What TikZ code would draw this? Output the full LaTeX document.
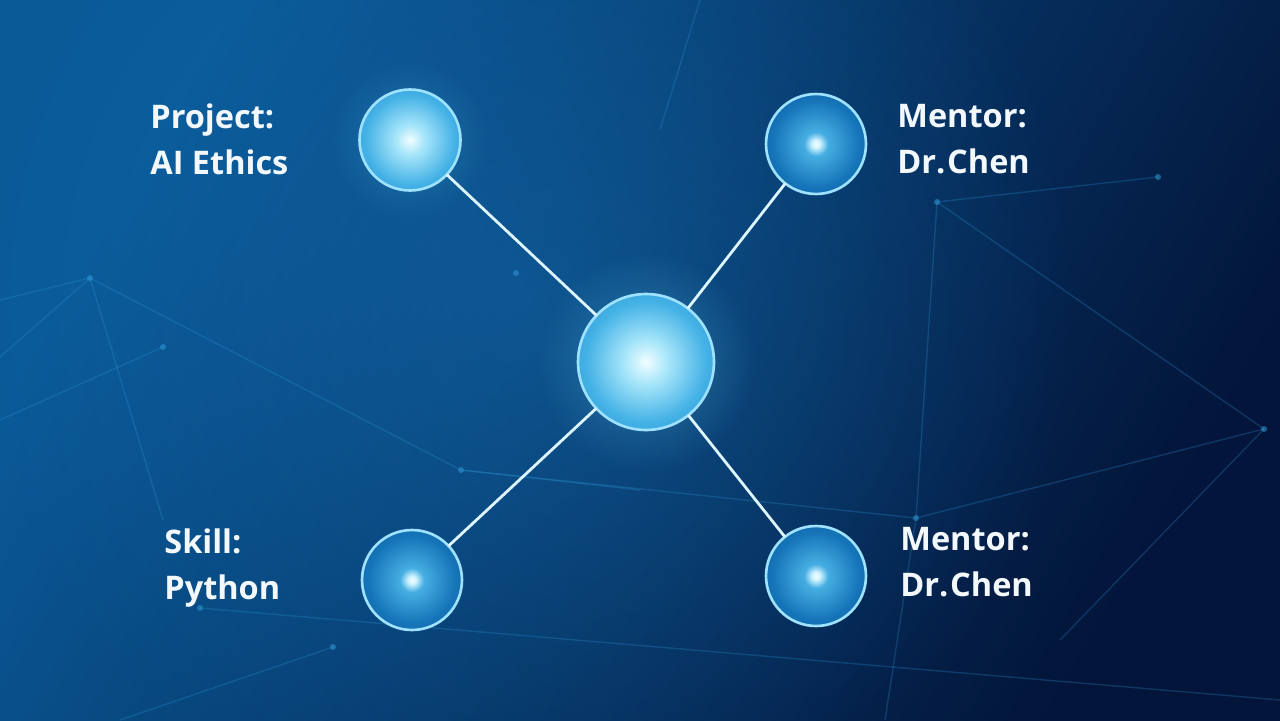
\documentclass[tikz,border=0pt]{standalone}
\usepackage{fontspec}
\setmainfont{Open Sans}
\usetikzlibrary{fadings,positioning}
\definecolor{bgleft}{HTML}{0A5A98}
\definecolor{bgright}{HTML}{03153A}
\definecolor{glowblue}{HTML}{1672B6}
\definecolor{webblue}{HTML}{2F9AD8}
\definecolor{rimblue}{HTML}{9FE2FF}
\definecolor{linkwhite}{HTML}{DDF5FF}
\definecolor{tagwhite}{HTML}{F2F8FC}
\definecolor{hubA}{HTML}{F2FDFF}
\definecolor{hubB}{HTML}{A8E6FA}
\definecolor{hubC}{HTML}{45B2E6}
\definecolor{hubD}{HTML}{2590D0}
\definecolor{hubE}{HTML}{1870B4}
\definecolor{dotB}{HTML}{CFF3FF}
\definecolor{dotC}{HTML}{46AEE2}
\definecolor{dotD}{HTML}{1574B8}
\definecolor{dotE}{HTML}{0B4F8C}
\pgfdeclareradialshading{hubglow}{\pgfpoint{0bp}{0bp}}{color(0bp)=(hubA); color(8bp)=(hubB);
  color(22bp)=(hubC); color(38bp)=(hubD); color(50bp)=(hubE)}
\pgfdeclareradialshading{projglow}{\pgfpoint{0bp}{0bp}}{color(0bp)=(hubA); color(7bp)=(hubB);
  color(22bp)=(hubC); color(38bp)=(hubD); color(50bp)=(hubE)}
\pgfdeclareradialshading{dotglow}{\pgfpoint{0bp}{0bp}}{color(0bp)=(hubA); color(2bp)=(dotB);
  color(6bp)=(dotC); color(22bp)=(dotD); color(44bp)=(dotE); color(50bp)=(hubE)}
\tikzfading[name=softglow, inner color=transparent!0, outer color=transparent!100]
\tikzstyle{edge}  =[draw=linkwhite, line width=1.6pt]
\tikzstyle{ball}  =[circle, draw=rimblue, line width=1.5pt,
                    inner sep=0pt, outer sep=0pt, minimum size=2cm]
\tikzstyle{tag}   =[text=tagwhite, font=\bfseries\fontsize{18.5}{26}\selectfont,
                    align=left, anchor=west, inner sep=0pt]
\tikzstyle{web}   =[draw=webblue, line width=0.8pt, opacity=0.25]
\tikzstyle{webdot}=[fill=webblue, opacity=0.55]

\begin{document}
\begin{tikzpicture}[x=0.02cm, y=-0.02cm]
    % background
    \useasboundingbox (0,0) rectangle (1280,720);
    \clip (0,0) rectangle (1280,720);
    \shade[top color=bgleft, bottom color=bgright, shading angle=60]
        (0,0) rectangle (1280,720);
    \fill[glowblue, path fading=softglow, fill opacity=0.45] (520,300) circle (560);
    % faint web behind
    \coordinate (w1) at (90,278);
    \coordinate (w2) at (461,470);
    \coordinate (w3) at (916,518);
    \coordinate (w4) at (1264,429);
    \coordinate (w5) at (937,202);
    \coordinate (w6) at (1158,177);
    \coordinate (w7) at (200,608);
    \coordinate (w8) at (516,273);
    \coordinate (w9) at (163,347);
    \coordinate (w10) at (333,647);
    \draw[web] (w1) -- (w2) -- (w3) -- (w4);
    \draw[web] (w1) -- (0,357);
    \draw[web] (w1) -- (163,520);
    \draw[web] (w1) -- (0,300);
    \draw[web] (w3) -- (w5) -- (w6);
    \draw[web] (w3) -- (885,720);
    \draw[web] (w5) -- (w4);
    \draw[web] (w7) -- (1280,700);
    \draw[web] (w9) -- (0,420);
    \draw[web] (w10) -- (120,720);
    \draw[web] (w2) -- (640,490);
    \draw[web] (660,130) -- (700,0);
    \draw[web] (w4) -- (1060,640);
    \foreach \p in {w1,w2,w3,w4,w5,w6,w7,w8,w9,w10}
        \fill[webdot] (\p) circle (3);
    % halos
    \fill[cyan!60!white, path fading=softglow, fill opacity=0.35] (646,362) circle (110);
    \fill[cyan!60!white, path fading=softglow, fill opacity=0.25] (410,140) circle (80);
    % nodes
    \node[ball, minimum size=2.72cm, shading=hubglow] (hub) at (646,362) {};
    \node[ball, minimum size=2.02cm, shading=projglow] (proj) at (410,140) {};
    \node[ball, shading=dotglow] (ment1) at (816,144) {};
    \node[ball, shading=dotglow] (skill) at (412,580) {};
    \node[ball, shading=dotglow] (ment2) at (816,576) {};
    \foreach \n in {proj,ment1,skill,ment2}
        \draw[edge] (hub) -- (\n);
    % labels
    \node[tag] (projtag) at (150,139) {Project:\\AI Ethics};
    \node[tag] (ment1tag) at (897,139) {Mentor:\\Dr.\kern1pt Chen};
    \node[tag] (skilltag) at (164,568) {Skill:\\Python};
    \node[tag] (ment2tag) at (900,562) {Mentor:\\Dr.\kern1pt Chen};
\end{tikzpicture}
\end{document}
